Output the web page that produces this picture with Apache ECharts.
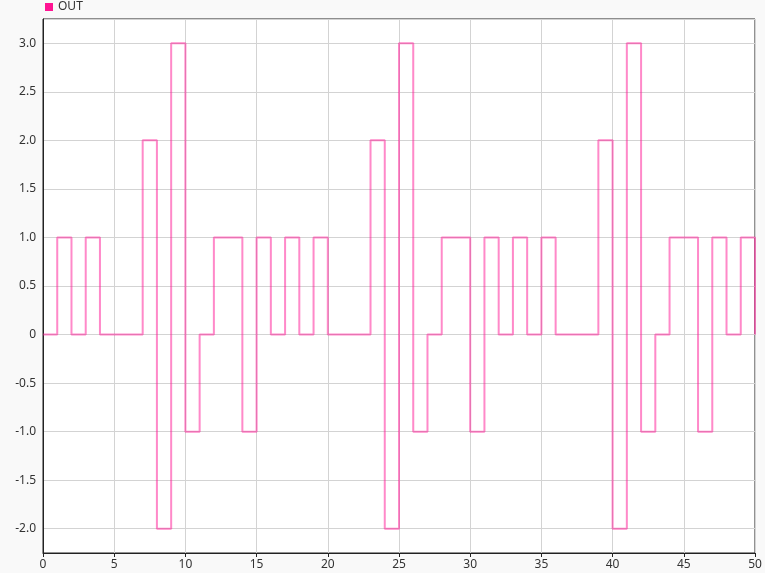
<!DOCTYPE html>
<html>
<head>
<meta charset="utf-8">
<script src="https://cdn.jsdelivr.net/npm/echarts@6/dist/echarts.min.js"></script>
<style>
  html, body { margin: 0; padding: 0; background: #f9f9f9; }
  #chart { width: 765px; height: 573px; }
</style>
</head>
<body>
<div id="chart"></div>
<script>
// step signal: value held on [t, t+1)
const times = [0,1,2,3,4,5,6,7,8,9,10,11,12,13,14,15,16,17,18,19,20,21,22,23,24,25,26,27,28,29,30,31,32,33,34,35,36,37,38,39,40,41,42,43,44,45,46,47,48,49,50];
const outValues = [0,1,0,1,0,0,0,2,-2,3,-1,0,1,1,-1,1,0,1,0,1,0,0,0,2,-2,3,-1,0,1,1,-1,1,0,1,0,1,0,0,0,2,-2,3,-1,0,1,1,-1,1,0,1,0];
const seriesName = "OUT";

const chart = echarts.init(document.getElementById("chart"));
const font = "Noto Sans";

chart.setOption({
  animation: false,
  backgroundColor: "#f9f9f9",
  legend: {
    left: 40,
    top: -4,
    itemWidth: 8,
    itemHeight: 8,
    itemGap: 10,
    icon: "rect",
    textStyle: { fontFamily: font, fontSize: 12, color: "#333" },
    data: [{ name: seriesName, itemStyle: { color: "#ff1493", opacity: 1 } }]
  },
  grid: {
    show: true,
    left: 43,
    right: 10,
    top: 19,
    bottom: 20,
    borderColor: "#222",
    borderWidth: 1,
    backgroundColor: "#fff"
  },
  xAxis: {
    type: "value",
    min: 0,
    max: 50,
    interval: 5,
    axisLine: { show: true, onZero: false, lineStyle: { color: "#222" } },
    axisTick: { show: true, length: 4, lineStyle: { color: "#222" } },
    axisLabel: { fontFamily: font, fontSize: 12, color: "#333", margin: 6 },
    splitLine: { show: true, lineStyle: { color: "#d3d3d3" } }
  },
  yAxis: {
    type: "value",
    min: -2.25,
    max: 3.25,
    splitNumber: 11,
    minInterval: 0.5,
    maxInterval: 0.5,
    axisLine: { show: true, lineStyle: { color: "#222" } },
    axisTick: { show: false },
    axisLabel: {
      fontFamily: font,
      fontSize: 12,
      color: "#333",
      margin: 7,
      showMinLabel: false,
      showMaxLabel: false,
      formatter: v => (v === 0 ? "0" : v.toFixed(1))
    },
    splitLine: { show: true, lineStyle: { color: "#d3d3d3" } }
  },
  series: [{
    name: seriesName,
    type: "line",
    step: "end",
    symbol: "none",
    itemStyle: { color: "#ff1493" },
    lineStyle: { color: "#ff1493", width: 2, opacity: 0.5 },
    data: times.map((t, i) => [t, outValues[i]])
  }]
});
</script>
</body>
</html>
